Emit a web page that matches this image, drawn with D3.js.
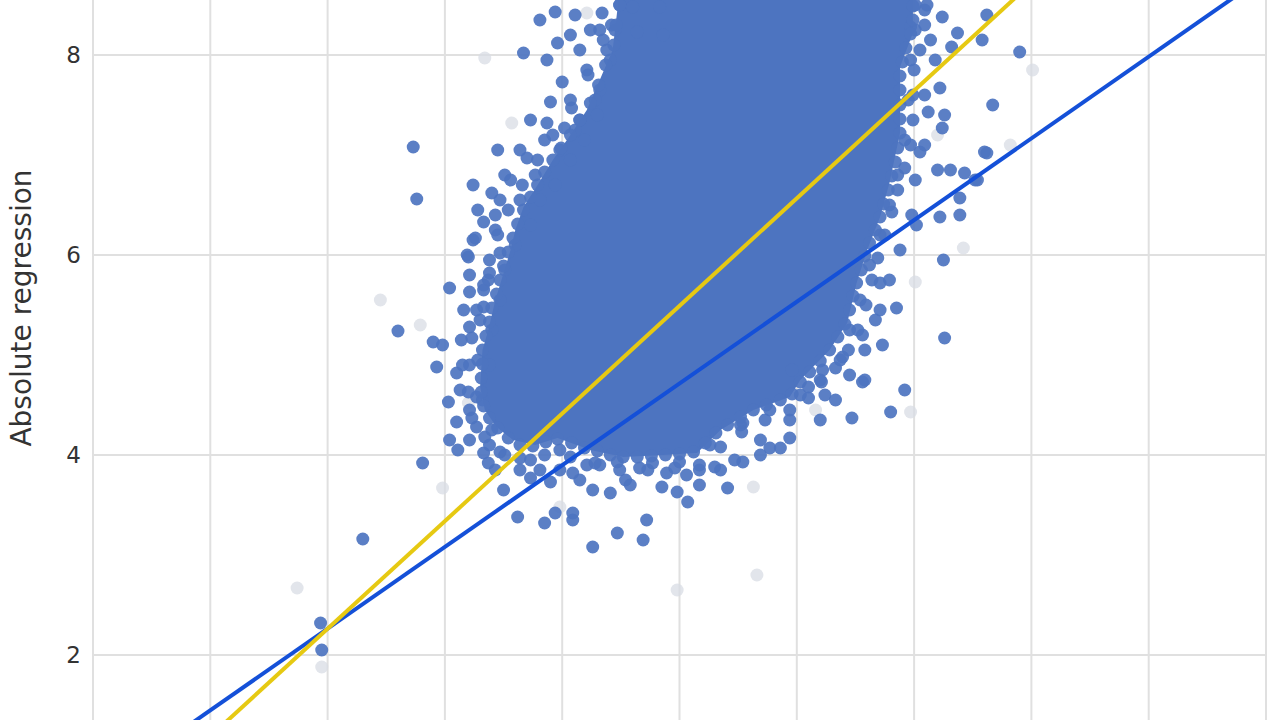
<!DOCTYPE html>
<html>
<head>
<meta charset="utf-8">
<script src="https://cdn.jsdelivr.net/npm/d3@7"></script>
<style>
  html, body { margin: 0; padding: 0; background: #fff; overflow: hidden; }
  svg { display: block; font-family: "DejaVu Sans", "Noto Sans", sans-serif; }
</style>
</head>
<body>
<svg id="chart" width="1280" height="720"></svg>
<script>
const yTicks = [2, 4, 6, 8];
const xTicks = [0, 1, 2, 3, 4, 5, 6, 7, 8, 9, 10];
const yLabel = 'Absolute regression';

// dense middle of the cloud, as an outline
const coreOutline = [
  [4.49, 8.65], [5.70, 8.75], [6.99, 8.65], [6.99, 8.22], [6.88, 7.88], [6.88, 7.55], [6.88, 7.22],
  [6.79, 6.72], [6.71, 6.38], [6.60, 6.05], [6.51, 5.72], [6.43, 5.32], [6.28, 5.05], [6.03, 4.75],
  [5.94, 4.58], [5.63, 4.45], [5.35, 4.25], [5.15, 4.02], [4.86, 4.00], [4.52, 3.98], [4.24, 4.05],
  [3.96, 4.17], [3.77, 4.10], [3.58, 4.15], [3.44, 4.28], [3.34, 4.45], [3.30, 4.68], [3.32, 5.05],
  [3.37, 5.25], [3.43, 5.55], [3.50, 5.82], [3.56, 6.05], [3.60, 6.25], [3.67, 6.48], [3.79, 6.70],
  [3.92, 6.95], [4.07, 7.20], [4.21, 7.45], [4.32, 7.75], [4.43, 8.05]
];

const points = [
  // outliers
  [2.73, 7.08], [2.76, 6.56], [2.60, 5.24], [2.81, 3.92], [2.30, 3.16], [1.94, 2.32], [1.95, 2.05],
  [3.04, 5.67], [2.90, 5.13], [2.98, 5.10], [3.24, 6.15], [3.20, 5.98], [3.21, 5.63], [3.33, 5.65],
  [3.21, 5.28], [2.93, 4.88], [3.10, 4.82], [3.15, 4.90], [3.03, 4.53], [3.10, 4.33], [3.27, 4.28],
  [3.04, 4.15], [3.11, 4.05], [3.33, 4.02], [3.37, 3.92], [3.27, 4.58], [3.38, 5.82], [3.47, 6.02],
  [3.33, 5.48],
  [3.96, 8.12], [3.67, 8.02], [3.87, 7.95], [4.00, 7.73], [3.90, 7.53], [4.07, 7.55], [4.02, 7.27],
  [3.87, 7.32], [4.21, 7.85], [4.24, 8.25], [4.34, 8.42], [4.49, 8.50], [4.60, 8.48], [4.64, 8.23],
  [4.86, 8.20], [4.83, 8.48], [4.38, 8.05], [3.45, 7.05], [3.24, 6.70], [3.40, 6.62], [3.70, 6.97],
  [3.33, 6.33], [3.26, 6.17], [3.19, 6.00], [3.94, 8.43],
  [3.62, 3.38], [3.85, 3.32], [3.94, 3.42], [4.09, 3.35], [4.09, 3.42], [4.26, 3.08], [4.47, 3.22],
  [4.69, 3.15], [4.72, 3.35], [4.26, 3.65], [4.41, 3.62], [4.21, 3.90], [4.47, 3.93], [4.85, 3.68],
  [4.98, 3.63], [5.07, 3.53], [4.89, 3.82], [5.06, 3.80], [4.77, 3.92], [5.30, 3.88], [5.41, 3.67],
  [5.47, 3.95], [5.54, 3.93], [5.54, 4.32], [5.77, 4.07], [5.86, 4.07], [6.10, 4.68], [6.47, 4.37],
  [6.80, 4.43], [6.56, 4.73], [3.90, 3.73], [3.50, 3.65], [3.64, 3.85], [4.09, 3.82],
  [7.05, 7.03], [7.20, 6.85], [7.31, 6.85], [7.43, 6.82], [7.39, 6.57], [7.39, 6.40], [7.22, 6.38],
  [7.02, 6.30], [7.54, 6.75], [7.62, 7.02], [7.25, 5.95], [6.85, 5.47], [6.73, 5.10], [6.56, 5.20],
  [6.39, 4.98], [7.26, 5.17], [6.58, 4.75], [6.92, 4.65], [5.96, 4.85], [6.22, 4.85], [6.71, 5.72],
  [6.71, 5.45],
  [7.24, 8.38], [7.62, 8.40], [7.37, 8.22], [7.58, 8.15], [7.90, 8.03], [7.18, 7.95], [7.32, 8.08],
  [7.22, 7.67], [7.67, 7.50], [7.12, 7.43], [7.26, 7.40], [7.24, 7.27], [7.60, 7.03], [7.52, 6.75],
  [6.97, 8.28], [7.01, 8.50],
  // near the edge of the dense part
  [3.47, 6.55], [3.43, 6.25], [3.37, 5.75], [3.30, 5.35], [3.28, 4.95], [3.32, 4.55], [3.40, 4.25],
  [3.51, 4.00], [3.73, 3.95], [3.98, 4.05], [4.32, 3.90], [4.66, 3.87], [5.00, 3.93], [5.26, 4.10],
  [5.52, 4.30], [5.77, 4.45], [6.03, 4.60], [6.20, 4.75], [6.37, 4.95], [6.45, 5.25], [6.54, 5.55],
  [6.62, 5.90], [6.71, 6.20], [6.79, 6.50], [6.86, 6.80], [6.92, 7.15], [6.95, 7.55], [6.97, 7.95],
  [7.01, 8.25], [3.64, 6.55], [3.77, 6.80], [3.98, 7.05], [4.15, 7.35], [4.32, 7.65], [4.41, 7.95],
  [4.45, 8.25], [3.56, 6.75], [3.85, 7.15], [6.24, 4.60], [5.94, 4.35], [5.69, 4.15], [5.17, 3.85],
  [4.54, 3.75], [3.81, 3.85], [3.38, 4.10],
  [4.11, 8.40], [4.42, 8.30], [4.15, 8.05], [4.28, 7.55], [4.19, 7.15], [4.07, 6.95], [3.94, 6.70],
  [3.81, 6.55], [3.73, 6.30], [3.60, 6.10], [3.51, 5.85], [3.47, 5.55], [3.40, 5.25], [3.38, 4.90],
  [3.28, 6.45], [3.21, 5.80], [3.16, 5.45], [3.14, 5.15], [3.13, 4.65], [3.21, 4.45], [3.21, 4.15],
  [3.43, 3.85], [3.73, 3.77], [3.98, 3.85], [4.15, 3.75], [4.58, 3.70], [5.17, 3.70], [5.35, 3.85],
  [5.69, 4.00], [5.94, 4.17], [6.20, 4.35], [6.33, 4.55], [6.45, 4.80], [6.58, 5.05], [6.67, 5.35],
  [6.79, 5.75], [6.88, 6.05], [6.98, 6.40], [7.01, 6.75], [7.09, 7.10], [7.09, 7.60], [7.14, 8.15],
  [7.09, 8.45], [3.81, 8.35], [4.07, 8.20], [3.73, 7.35], [3.64, 7.05], [3.51, 6.80], [3.43, 6.40],
  [4.32, 8.25], [4.30, 7.40], [4.11, 7.25],
  [4.49, 8.50], [4.46, 8.30], [4.44, 8.10], [4.37, 7.90], [4.31, 7.70], [4.24, 7.52], [4.15, 7.35],
  [4.07, 7.20], [3.99, 7.07], [3.92, 6.95], [3.85, 6.83], [3.79, 6.70], [3.73, 6.58], [3.67, 6.45],
  [3.62, 6.31], [3.58, 6.17], [3.54, 6.03], [3.50, 5.89], [3.47, 5.75], [3.44, 5.61], [3.40, 5.47],
  [3.38, 5.33], [3.35, 5.19], [3.32, 5.05], [3.32, 4.91], [3.31, 4.77], [3.31, 4.63], [3.33, 4.49],
  [3.38, 4.37], [3.45, 4.27], [3.54, 4.17], [3.64, 4.10], [3.75, 4.09], [3.86, 4.13], [3.96, 4.16],
  [4.08, 4.12], [4.19, 4.07], [4.30, 4.04], [4.41, 4.00], [4.52, 3.98], [4.64, 3.98], [4.76, 3.99],
  [4.88, 4.00], [5.00, 4.01], [5.12, 4.03], [5.22, 4.12], [5.31, 4.22], [5.41, 4.30], [5.52, 4.38],
  [5.63, 4.45], [5.74, 4.50], [5.86, 4.55], [5.96, 4.61], [6.03, 4.73], [6.11, 4.83], [6.20, 4.94],
  [6.28, 5.05], [6.35, 5.18], [6.41, 5.31], [6.45, 5.45], [6.48, 5.59], [6.51, 5.72], [6.55, 5.85],
  [6.58, 5.99], [6.62, 6.12], [6.67, 6.25], [6.71, 6.38], [6.74, 6.51], [6.78, 6.65], [6.81, 6.79],
  [6.84, 6.93], [6.86, 7.07], [6.88, 7.22], [6.88, 7.36], [6.88, 7.50], [6.88, 7.65], [6.88, 7.79],
  [6.90, 7.93], [6.93, 8.07], [6.97, 8.21], [6.99, 8.35], [6.99, 8.49],
  [4.35, 8.15], [4.22, 7.80], [4.08, 7.47], [3.92, 7.20], [3.79, 6.95], [3.66, 6.70], [3.54, 6.45],
  [3.45, 6.20], [3.38, 5.95], [3.33, 5.70], [3.27, 5.45], [3.23, 5.17], [3.21, 4.90], [3.20, 4.63],
  [3.23, 4.37], [3.34, 4.18], [3.47, 4.03], [3.64, 3.97], [3.85, 4.00], [4.07, 3.98], [4.28, 3.92],
  [4.49, 3.85], [4.73, 3.85], [4.96, 3.87], [5.17, 3.90], [5.35, 4.08], [5.53, 4.23], [5.73, 4.35],
  [5.94, 4.45], [6.10, 4.57], [6.21, 4.73], [6.33, 4.87], [6.44, 5.05], [6.52, 5.25], [6.59, 5.50],
  [6.64, 5.75], [6.69, 5.97], [6.75, 6.20], [6.81, 6.43], [6.86, 6.65], [6.92, 6.87], [6.97, 7.10],
  [6.99, 7.35], [6.99, 7.60], [7.00, 7.85], [7.05, 8.05], [7.09, 8.30], [7.11, 8.50]
];

const fadedPoints = [
  [1.74, 2.67], [1.95, 1.88], [2.45, 5.55], [2.79, 5.30], [3.20, 4.52], [2.98, 3.67], [3.34, 7.97],
  [3.57, 7.32], [4.21, 8.42], [4.52, 8.22], [6.16, 4.45], [5.63, 3.68], [5.66, 2.80], [4.98, 2.65],
  [3.98, 3.48], [8.01, 7.85], [7.20, 7.20], [7.82, 7.10], [7.42, 6.07], [7.01, 5.73], [6.69, 8.43],
  [6.97, 4.43]
];

// fitted lines, two end points each
const blueFit = [[0, 0.63], [10, 8.80]];
const yellowFit = [[0, 0.11], [8, 8.72]];

const dotColor = '#4d74c0';

const svg = d3.select('#chart');
const x = d3.scaleLinear().domain([0, 10]).range([93, 1266]);
const y = d3.scaleLinear().domain([1.35, 8.55]).range([720, 0]);

// grid
svg.append('g')
  .selectAll('line')
  .data(xTicks)
  .enter().append('line')
  .attr('x1', d => x(d)).attr('x2', d => x(d))
  .attr('y1', 0).attr('y2', 720)
  .attr('stroke', '#e0e0e0')
  .attr('stroke-width', 2);

svg.append('g')
  .selectAll('line')
  .data(yTicks)
  .enter().append('line')
  .attr('x1', x(0)).attr('x2', x(10))
  .attr('y1', d => y(d)).attr('y2', d => y(d))
  .attr('stroke', '#e0e0e0')
  .attr('stroke-width', 2);

// y axis labels
const yAxis = svg.append('g')
  .attr('transform', `translate(${x(0)},0)`)
  .call(d3.axisLeft(y).tickValues(yTicks).tickSize(0).tickPadding(12).tickFormat(d3.format('d')));
yAxis.select('.domain').remove();
yAxis.selectAll('text')
  .attr('font-size', 23)
  .attr('fill', '#333')
  .attr('font-family', '"DejaVu Sans", sans-serif');

svg.append('text')
  .attr('transform', `translate(31,${y(5.47)}) rotate(-90)`)
  .attr('text-anchor', 'middle')
  .attr('font-size', 28)
  .attr('fill', '#333')
  .text(yLabel);

// faded points
svg.append('g')
  .selectAll('circle')
  .data(fadedPoints)
  .enter().append('circle')
  .attr('cx', d => x(d[0]))
  .attr('cy', d => y(d[1]))
  .attr('r', 6.5)
  .attr('fill', '#d8dce4')
  .attr('opacity', 0.75);

// dense core
svg.append('path')
  .datum(coreOutline)
  .attr('d', d3.line().x(d => x(d[0])).y(d => y(d[1])).curve(d3.curveLinearClosed))
  .attr('fill', dotColor);

svg.append('g')
  .selectAll('circle')
  .data(points)
  .enter().append('circle')
  .attr('cx', d => x(d[0]))
  .attr('cy', d => y(d[1]))
  .attr('r', 6.5)
  .attr('fill', dotColor)
  .attr('opacity', 0.92);

const line = d3.line().x(d => x(d[0])).y(d => y(d[1]));

svg.append('path')
  .datum(blueFit)
  .attr('d', line)
  .attr('stroke', '#1450d8')
  .attr('stroke-width', 4)
  .attr('fill', 'none');

svg.append('path')
  .datum(yellowFit)
  .attr('d', line)
  .attr('stroke', '#e6c912')
  .attr('stroke-width', 4)
  .attr('fill', 'none');
</script>
</body>
</html>
